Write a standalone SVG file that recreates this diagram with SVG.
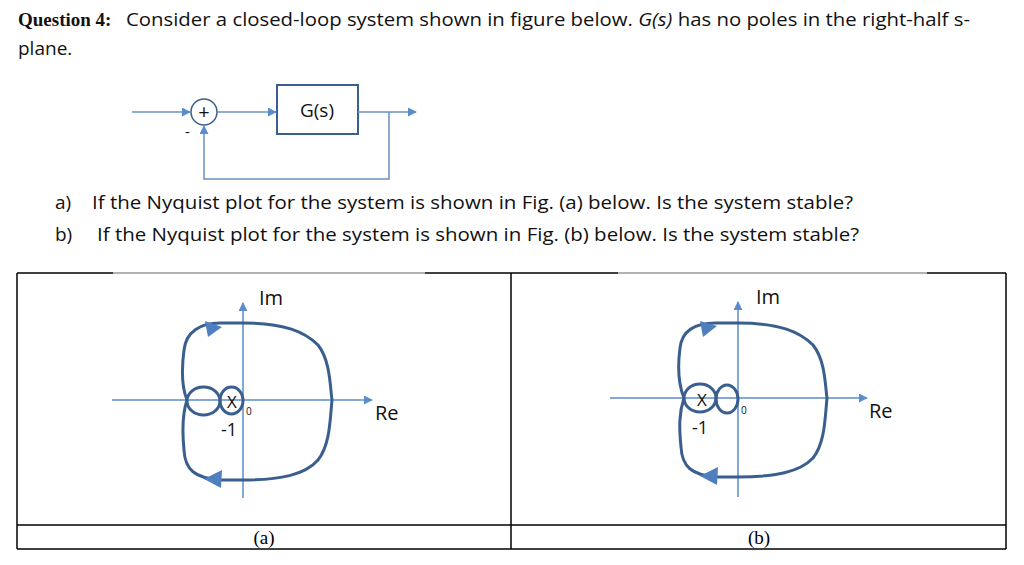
<svg xmlns="http://www.w3.org/2000/svg" width="1024" height="565" viewBox="0 0 1024 565">
<style>
.t{font-family:"Open Sans","Liberation Sans",sans-serif;font-size:19px;fill:#111}
.ax{stroke:#5b8ccc;stroke-width:1.5;fill:none}
.cv{stroke:#3a5f8f;stroke-width:3;fill:none}
.bl{stroke:#6a8fbf;stroke-width:1.5;fill:none}
.tb{stroke:#000;stroke-width:1.5;fill:none}
.lb{font-family:"Open Sans","Liberation Sans",sans-serif;fill:#111}
</style>
<defs>
<marker id="ah" viewBox="0 0 10 10" refX="9" refY="5" markerWidth="9" markerHeight="9" markerUnits="userSpaceOnUse" orient="auto"><path d="M0,0L10,5L0,10z" fill="#5b8ccc"/></marker>
</defs>
<rect width="1024" height="565" fill="#fff"/>
<text class="t" x="18" y="26"><tspan font-family="Liberation Serif,serif" font-weight="bold" font-size="19">Question 4:</tspan><tspan x="126" textLength="844" lengthAdjust="spacingAndGlyphs">Consider a closed-loop system shown in figure below. <tspan font-style="italic">G(s)</tspan> has no poles in the right-half s-</tspan></text>
<text class="t" x="18" y="55">plane.</text>
<text class="t" x="55" y="209">a)</text><text class="t" x="92" y="209" textLength="761" lengthAdjust="spacingAndGlyphs">If the Nyquist plot for the system is shown in Fig. (a) below. Is the system stable?</text>
<text class="t" x="55" y="241">b)</text><text class="t" x="97" y="241" textLength="762" lengthAdjust="spacingAndGlyphs">If the Nyquist plot for the system is shown in Fig. (b) below. Is the system stable?</text>

<g id="sum"><circle cx="204" cy="112" r="13" fill="#fff" stroke="#3a5f8f" stroke-width="1.5"/><text class="lb" x="204" y="119" font-size="20" text-anchor="middle">+</text><text class="lb" x="185" y="137" font-size="15">-</text></g>
<g id="gs"><rect x="277" y="85" width="81" height="49" fill="#fff" stroke="#3a5f8f" stroke-width="2"/><text class="lb" x="317" y="117" font-size="19" text-anchor="middle">G(s)</text></g>
<g id="connectors">
<line class="bl" x1="132" y1="112" x2="190" y2="112" marker-end="url(#ah)"/>
<line class="bl" x1="217" y1="112" x2="276" y2="112" marker-end="url(#ah)"/>
<line class="bl" x1="358" y1="112" x2="416" y2="112" marker-end="url(#ah)"/>
<polyline class="bl" points="389,112 389,179 204,179 204,126" stroke="#4a6f9f" marker-end="url(#ah)"/>
</g>

<g id="table">
<line class="tb" x1="17" y1="273" x2="113" y2="273"/><line x1="113" y1="273" x2="425" y2="273" stroke="#999" stroke-width="1.5"/>
<line class="tb" x1="425" y1="273" x2="618" y2="273"/><line x1="618" y1="273" x2="927" y2="273" stroke="#999" stroke-width="1.5"/>
<line class="tb" x1="927" y1="273" x2="1006" y2="273"/>
<line class="tb" x1="17" y1="273" x2="17" y2="549"/><line class="tb" x1="1006" y1="273" x2="1006" y2="549"/>
<line class="tb" x1="511" y1="273" x2="511" y2="549"/>
<line class="tb" x1="17" y1="525" x2="1006" y2="525"/><line class="tb" x1="17" y1="549" x2="1006" y2="549" stroke-width="2"/>
<text x="264" y="544" font-family="Liberation Serif,serif" font-size="19" text-anchor="middle">(a)</text>
<text x="759" y="544" font-family="Liberation Serif,serif" font-size="19" text-anchor="middle">(b)</text>
</g>

<g id="plotA">
<line class="ax" x1="112" y1="400" x2="372" y2="400" marker-end="url(#ah)"/>
<line class="ax" x1="243" y1="498" x2="243" y2="303" marker-end="url(#ah)"/>
<path class="cv" d="M187,400 C181,385 182,365 184,350 C186,332 200,323 220,323 L243,323 C285,323 305,332 318,345 C330,360 330,385 332,400 C330,420 330,445 318,460 C305,475 280,480 243,480 L220,480 C195,478 185,470 184,450 C182,430 182,415 187,400"/>
<ellipse class="cv" cx="203.5" cy="401" rx="16.5" ry="14"/>
<ellipse class="cv" cx="231.5" cy="400.5" rx="11.5" ry="13.5"/>
<path d="M205,321L222,327L208,337z" fill="#4f7fbf"/>
<path d="M204,479L222,470L221,488z" fill="#4f7fbf"/>
<text class="lb" x="232" y="408" font-size="17" text-anchor="middle">X</text>
<text class="lb" x="246" y="415" font-size="10">0</text>
<text class="lb" x="229" y="436" font-size="18" text-anchor="middle">-1</text>
<text class="lb" x="259" y="305" font-size="20">Im</text>
<text class="lb" x="375" y="420" font-size="20">Re</text>
</g>

<g id="plotB">
<line class="ax" x1="610" y1="398" x2="867" y2="398" marker-end="url(#ah)"/>
<line class="ax" x1="738" y1="497" x2="738" y2="302" marker-end="url(#ah)"/>
<path class="cv" d="M684,398 C678,383 678,363 680,348 C682,330 696,323 716,323 L738,323 C780,323 800,332 813,345 C825,360 825,383 827,398 C825,418 825,443 813,458 C800,472 775,477 738,477 L716,477 C692,475 682,467 681,447 C679,427 679,413 684,398"/>
<ellipse class="cv" cx="700" cy="398" rx="16" ry="14"/>
<ellipse class="cv" cx="727" cy="399" rx="11" ry="14"/>
<path d="M700,321L717,326L703,337z" fill="#4f7fbf"/>
<path d="M700,476L718,467L717,485z" fill="#4f7fbf"/>
<text class="lb" x="702" y="406" font-size="17" text-anchor="middle">X</text>
<text class="lb" x="741" y="414" font-size="10">0</text>
<text class="lb" x="700" y="434" font-size="18" text-anchor="middle">-1</text>
<text class="lb" x="756" y="304" font-size="20">Im</text>
<text class="lb" x="869" y="418" font-size="20">Re</text>
</g>
</svg>
